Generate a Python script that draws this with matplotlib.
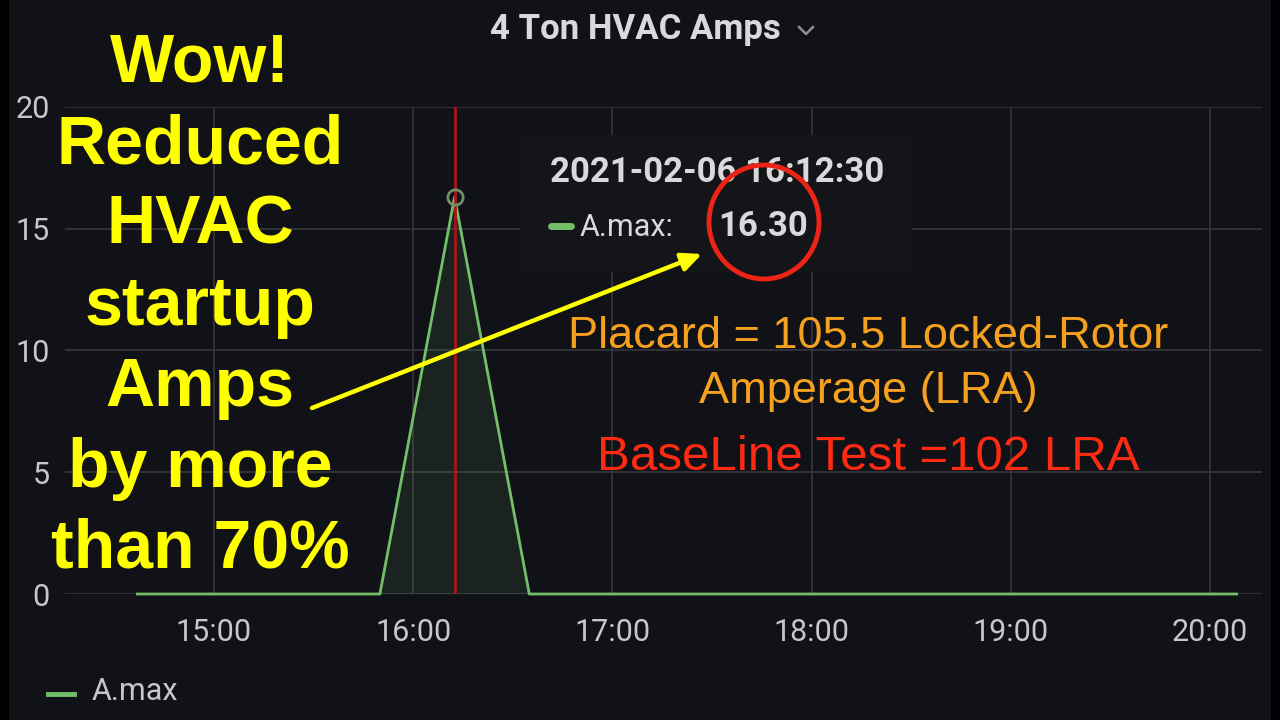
import numpy as np
import pandas as pd
import matplotlib
matplotlib.use("Agg")
import matplotlib.pyplot as plt
import matplotlib.dates as mdates
from matplotlib.patches import Ellipse, Rectangle
from matplotlib.lines import Line2D

# --- data ---
times = ["2021-02-06 14:37:00", "2021-02-06 15:50:00", "2021-02-06 16:12:30",
         "2021-02-06 16:35:00", "2021-02-06 20:08:00"]
amps = [0.0, 0.0, 16.30, 0.0, 0.0]
peak_time = "2021-02-06 16:12:30"
peak_value = 16.30
y_ticks = [0, 5, 10, 15, 20]
x_range = ["2021-02-06 14:15:10", "2021-02-06 20:15:40"]
hour_ticks = ["2021-02-06 15:00", "2021-02-06 16:00", "2021-02-06 17:00",
              "2021-02-06 18:00", "2021-02-06 19:00", "2021-02-06 20:00"]

BG = "#111217"
GRID = "#34353a"
TXT = "#d8d9da"
TICK = "#c6c7cb"
GREEN = "#73bf69"

t = pd.to_datetime(times)
fig = plt.figure(figsize=(12.8, 7.2), dpi=100, facecolor=BG)
W, H = 1280, 720
ax = fig.add_axes([65 / W, 1 - 594 / H, (1262 - 65) / W, (594 - 107) / H])
ax.set_facecolor(BG)

ax.plot(t, amps, color=GREEN, lw=2, clip_on=False, zorder=3)
ax.fill_between(t, amps, 0, color=GREEN, alpha=0.1, lw=0, zorder=2)
pk = pd.Timestamp(peak_time)
ax.axvline(pk, color="#a8161c", lw=2, zorder=4)
ax.plot([pk], [peak_value], marker="o", ms=11, mfc="none", mec="#6f8f67", mew=2, zorder=5)

ax.set_ylim(0, 20)
ax.set_yticks(y_ticks)
ax.set_xlim(pd.to_datetime(x_range))
ax.set_xticks(pd.to_datetime(hour_ticks))
ax.xaxis.set_major_formatter(mdates.DateFormatter("%H:%M"))
ax.grid(True, color=GRID, lw=1.3, zorder=0)
ax.set_axisbelow(True)
for s in ax.spines.values():
    s.set_visible(False)
ax.tick_params(length=0, colors=TICK, labelsize=22)
ax.tick_params(axis="x", pad=17)
ax.tick_params(axis="y", pad=11)
for lab in ax.get_xticklabels() + ax.get_yticklabels():
    lab.set_fontfamily("Roboto")

# tooltip box (covers the gridlines behind it)
fig.patches.append(Rectangle((520 / W, 1 - 272 / H), 392 / W, 137 / H,
                             transform=fig.transFigure, facecolor="#141519",
                             edgecolor="none", zorder=5))
fig.text(550 / W, 1 - 173 / H, "2021-02-06 16:12:30", color=TXT, fontsize=25,
         fontweight="bold", family="Roboto", va="center", zorder=6)
fig.lines.append(Line2D([551 / W, 571 / W], [1 - 226 / H] * 2, transform=fig.transFigure,
                        color=GREEN, lw=5, solid_capstyle="round", zorder=6))
fig.text(580 / W, 1 - 227 / H, "A.max:", color=TXT, fontsize=22, family="Roboto",
         va="center", zorder=6)
fig.text(718 / W, 1 - 227 / H, "16.30", color=TXT, fontsize=25, fontweight="bold",
         family="Roboto", va="center", zorder=6)

# panel title
fig.text(635 / W, 1 - 30 / H, "4 Ton HVAC Amps", color=TXT, fontsize=25,
         fontweight="bold", family="Roboto", ha="center", va="center")
fig.lines.append(Line2D([799 / W, 806 / W, 813 / W], [1 - 27 / H, 1 - 34 / H, 1 - 27 / H],
                        transform=fig.transFigure, color="#8e8f94", lw=1.8))

# legend
fig.lines.append(Line2D([48 / W, 74 / W], [1 - 694 / H] * 2, transform=fig.transFigure,
                        color=GREEN, lw=3.5))
fig.text(92 / W, 1 - 692 / H, "A.max", color=TICK, fontsize=22, family="Roboto", va="center")

# overlay annotations
yel = "#ffff00"
fig.text(200 / W, 1 - 307 / H,
         "Wow!\nReduced\nHVAC\nstartup\nAmps\nby more\nthan 70%",
         color=yel, fontsize=49, fontweight="bold", family="Liberation Sans",
         ha="center", va="center", linespacing=1.34, zorder=8)
fig.text(868 / W, 1 - 336 / H, "Placard = 105.5 Locked-Rotor", color="#f5a11f",
         fontsize=32.5, family="Liberation Sans", ha="center", va="center", zorder=8)
fig.text(868 / W, 1 - 392 / H, "Amperage (LRA)", color="#f5a11f",
         fontsize=32.5, family="Liberation Sans", ha="center", va="center", zorder=8)
fig.text(868 / W, 1 - 457 / H, "BaseLine Test =102 LRA", color="#ff2a12",
         fontsize=35.5, family="Liberation Sans", ha="center", va="center", zorder=8)

fig.patches.append(Ellipse((764 / W, 1 - 222 / H), 110 / W, 114 / H,
                           transform=fig.transFigure, fill=False,
                           edgecolor="#ec2417", lw=3.5, zorder=9))
fig.add_artist(plt.Annotation("", xy=(702 / W, 1 - 254 / H), xytext=(312 / W, 1 - 408 / H),
                              xycoords="figure fraction", textcoords="figure fraction",
                              arrowprops=dict(arrowstyle="-|>,head_length=1.2,head_width=0.55",
                                              color=yel, lw=3.2, shrinkA=0, shrinkB=0),
                              zorder=9))

# dark strips at image edges
fig.patches.append(Rectangle((0, 0), 9 / W, 1, transform=fig.transFigure,
                             facecolor="black", edgecolor="none", zorder=10))
fig.patches.append(Rectangle((1271 / W, 0), 9 / W, 1, transform=fig.transFigure,
                             facecolor="black", edgecolor="none", zorder=10))

fig.savefig("out.png", dpi=100, facecolor=BG)
